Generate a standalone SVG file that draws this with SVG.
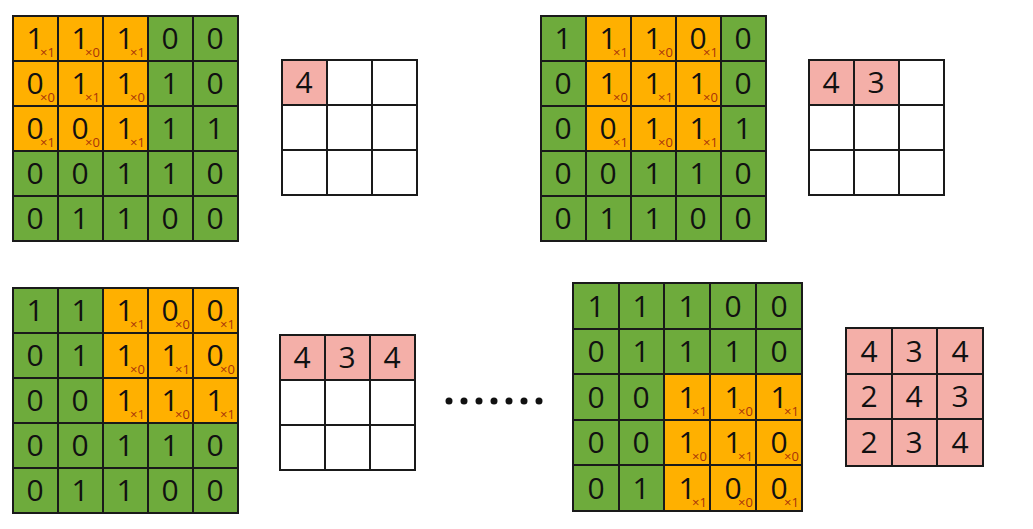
<svg xmlns="http://www.w3.org/2000/svg" width="1033" height="529" viewBox="0 0 1033 529">
<style>
.g{fill:#6EAB3C;stroke:#1a1a1a;stroke-width:2}
.o{fill:#FFB000;stroke:#1a1a1a;stroke-width:2}
.w{fill:#fff;stroke:#1a1a1a;stroke-width:2}
.p{fill:#F4AFA8;stroke:#1a1a1a;stroke-width:2}
text{font-family:"Open Sans","Liberation Sans",sans-serif;fill:#111}
.n{font-size:30px;text-anchor:middle}
.s{font-size:13px;fill:#A8320A}
</style>
<rect width="1033" height="529" fill="#fff"/>
<!-- Panel 1 -->
<g id="panel1">
<rect class="o" x="13" y="16" width="45" height="45"/><rect class="o" x="58" y="16" width="45" height="45"/><rect class="o" x="103" y="16" width="45" height="45"/><rect class="g" x="148" y="16" width="45" height="45"/><rect class="g" x="193" y="16" width="45" height="45"/>
<rect class="o" x="13" y="61" width="45" height="45"/><rect class="o" x="58" y="61" width="45" height="45"/><rect class="o" x="103" y="61" width="45" height="45"/><rect class="g" x="148" y="61" width="45" height="45"/><rect class="g" x="193" y="61" width="45" height="45"/>
<rect class="o" x="13" y="106" width="45" height="45"/><rect class="o" x="58" y="106" width="45" height="45"/><rect class="o" x="103" y="106" width="45" height="45"/><rect class="g" x="148" y="106" width="45" height="45"/><rect class="g" x="193" y="106" width="45" height="45"/>
<rect class="g" x="13" y="151" width="45" height="45"/><rect class="g" x="58" y="151" width="45" height="45"/><rect class="g" x="103" y="151" width="45" height="45"/><rect class="g" x="148" y="151" width="45" height="45"/><rect class="g" x="193" y="151" width="45" height="45"/>
<rect class="g" x="13" y="196" width="45" height="45"/><rect class="g" x="58" y="196" width="45" height="45"/><rect class="g" x="103" y="196" width="45" height="45"/><rect class="g" x="148" y="196" width="45" height="45"/><rect class="g" x="193" y="196" width="45" height="45"/>
<text class="n" x="35" y="49">1</text><text class="n" x="80" y="49">1</text><text class="n" x="125" y="49">1</text><text class="n" x="170" y="49">0</text><text class="n" x="215" y="49">0</text>
<text class="n" x="35" y="94">0</text><text class="n" x="80" y="94">1</text><text class="n" x="125" y="94">1</text><text class="n" x="170" y="94">1</text><text class="n" x="215" y="94">0</text>
<text class="n" x="35" y="139">0</text><text class="n" x="80" y="139">0</text><text class="n" x="125" y="139">1</text><text class="n" x="170" y="139">1</text><text class="n" x="215" y="139">1</text>
<text class="n" x="35" y="184">0</text><text class="n" x="80" y="184">0</text><text class="n" x="125" y="184">1</text><text class="n" x="170" y="184">1</text><text class="n" x="215" y="184">0</text>
<text class="n" x="35" y="229">0</text><text class="n" x="80" y="229">1</text><text class="n" x="125" y="229">1</text><text class="n" x="170" y="229">0</text><text class="n" x="215" y="229">0</text>
<text class="s" x="40" y="57">×1</text><text class="s" x="85" y="57">×0</text><text class="s" x="130" y="57">×1</text>
<text class="s" x="40" y="102">×0</text><text class="s" x="85" y="102">×1</text><text class="s" x="130" y="102">×0</text>
<text class="s" x="40" y="147">×1</text><text class="s" x="85" y="147">×0</text><text class="s" x="130" y="147">×1</text>
<rect class="p" x="282" y="60" width="45" height="45"/><rect class="w" x="327" y="60" width="45" height="45"/><rect class="w" x="372" y="60" width="45" height="45"/>
<rect class="w" x="282" y="105" width="45" height="45"/><rect class="w" x="327" y="105" width="45" height="45"/><rect class="w" x="372" y="105" width="45" height="45"/>
<rect class="w" x="282" y="150" width="45" height="45"/><rect class="w" x="327" y="150" width="45" height="45"/><rect class="w" x="372" y="150" width="45" height="45"/>
<text class="n" x="304" y="93">4</text>
</g>
<!-- Panel 2 -->
<g id="panel2">
<rect class="g" x="541" y="16" width="45" height="45"/><rect class="o" x="586" y="16" width="45" height="45"/><rect class="o" x="631" y="16" width="45" height="45"/><rect class="o" x="676" y="16" width="45" height="45"/><rect class="g" x="721" y="16" width="45" height="45"/>
<rect class="g" x="541" y="61" width="45" height="45"/><rect class="o" x="586" y="61" width="45" height="45"/><rect class="o" x="631" y="61" width="45" height="45"/><rect class="o" x="676" y="61" width="45" height="45"/><rect class="g" x="721" y="61" width="45" height="45"/>
<rect class="g" x="541" y="106" width="45" height="45"/><rect class="o" x="586" y="106" width="45" height="45"/><rect class="o" x="631" y="106" width="45" height="45"/><rect class="o" x="676" y="106" width="45" height="45"/><rect class="g" x="721" y="106" width="45" height="45"/>
<rect class="g" x="541" y="151" width="45" height="45"/><rect class="g" x="586" y="151" width="45" height="45"/><rect class="g" x="631" y="151" width="45" height="45"/><rect class="g" x="676" y="151" width="45" height="45"/><rect class="g" x="721" y="151" width="45" height="45"/>
<rect class="g" x="541" y="196" width="45" height="45"/><rect class="g" x="586" y="196" width="45" height="45"/><rect class="g" x="631" y="196" width="45" height="45"/><rect class="g" x="676" y="196" width="45" height="45"/><rect class="g" x="721" y="196" width="45" height="45"/>
<text class="n" x="563" y="49">1</text><text class="n" x="608" y="49">1</text><text class="n" x="653" y="49">1</text><text class="n" x="698" y="49">0</text><text class="n" x="743" y="49">0</text>
<text class="n" x="563" y="94">0</text><text class="n" x="608" y="94">1</text><text class="n" x="653" y="94">1</text><text class="n" x="698" y="94">1</text><text class="n" x="743" y="94">0</text>
<text class="n" x="563" y="139">0</text><text class="n" x="608" y="139">0</text><text class="n" x="653" y="139">1</text><text class="n" x="698" y="139">1</text><text class="n" x="743" y="139">1</text>
<text class="n" x="563" y="184">0</text><text class="n" x="608" y="184">0</text><text class="n" x="653" y="184">1</text><text class="n" x="698" y="184">1</text><text class="n" x="743" y="184">0</text>
<text class="n" x="563" y="229">0</text><text class="n" x="608" y="229">1</text><text class="n" x="653" y="229">1</text><text class="n" x="698" y="229">0</text><text class="n" x="743" y="229">0</text>
<text class="s" x="613" y="57">×1</text><text class="s" x="658" y="57">×0</text><text class="s" x="703" y="57">×1</text>
<text class="s" x="613" y="102">×0</text><text class="s" x="658" y="102">×1</text><text class="s" x="703" y="102">×0</text>
<text class="s" x="613" y="147">×1</text><text class="s" x="658" y="147">×0</text><text class="s" x="703" y="147">×1</text>
<rect class="p" x="809" y="60" width="45" height="45"/><rect class="p" x="854" y="60" width="45" height="45"/><rect class="w" x="899" y="60" width="45" height="45"/>
<rect class="w" x="809" y="105" width="45" height="45"/><rect class="w" x="854" y="105" width="45" height="45"/><rect class="w" x="899" y="105" width="45" height="45"/>
<rect class="w" x="809" y="150" width="45" height="45"/><rect class="w" x="854" y="150" width="45" height="45"/><rect class="w" x="899" y="150" width="45" height="45"/>
<text class="n" x="831" y="93">4</text><text class="n" x="876" y="93">3</text>
</g>
<!-- Panel 3 -->
<g id="panel3">
<rect class="g" x="13" y="288" width="45" height="45"/><rect class="g" x="58" y="288" width="45" height="45"/><rect class="o" x="103" y="288" width="45" height="45"/><rect class="o" x="148" y="288" width="45" height="45"/><rect class="o" x="193" y="288" width="45" height="45"/>
<rect class="g" x="13" y="333" width="45" height="45"/><rect class="g" x="58" y="333" width="45" height="45"/><rect class="o" x="103" y="333" width="45" height="45"/><rect class="o" x="148" y="333" width="45" height="45"/><rect class="o" x="193" y="333" width="45" height="45"/>
<rect class="g" x="13" y="378" width="45" height="45"/><rect class="g" x="58" y="378" width="45" height="45"/><rect class="o" x="103" y="378" width="45" height="45"/><rect class="o" x="148" y="378" width="45" height="45"/><rect class="o" x="193" y="378" width="45" height="45"/>
<rect class="g" x="13" y="423" width="45" height="45"/><rect class="g" x="58" y="423" width="45" height="45"/><rect class="g" x="103" y="423" width="45" height="45"/><rect class="g" x="148" y="423" width="45" height="45"/><rect class="g" x="193" y="423" width="45" height="45"/>
<rect class="g" x="13" y="468" width="45" height="45"/><rect class="g" x="58" y="468" width="45" height="45"/><rect class="g" x="103" y="468" width="45" height="45"/><rect class="g" x="148" y="468" width="45" height="45"/><rect class="g" x="193" y="468" width="45" height="45"/>
<text class="n" x="35" y="321">1</text><text class="n" x="80" y="321">1</text><text class="n" x="125" y="321">1</text><text class="n" x="170" y="321">0</text><text class="n" x="215" y="321">0</text>
<text class="n" x="35" y="366">0</text><text class="n" x="80" y="366">1</text><text class="n" x="125" y="366">1</text><text class="n" x="170" y="366">1</text><text class="n" x="215" y="366">0</text>
<text class="n" x="35" y="411">0</text><text class="n" x="80" y="411">0</text><text class="n" x="125" y="411">1</text><text class="n" x="170" y="411">1</text><text class="n" x="215" y="411">1</text>
<text class="n" x="35" y="456">0</text><text class="n" x="80" y="456">0</text><text class="n" x="125" y="456">1</text><text class="n" x="170" y="456">1</text><text class="n" x="215" y="456">0</text>
<text class="n" x="35" y="501">0</text><text class="n" x="80" y="501">1</text><text class="n" x="125" y="501">1</text><text class="n" x="170" y="501">0</text><text class="n" x="215" y="501">0</text>
<text class="s" x="130" y="329">×1</text><text class="s" x="175" y="329">×0</text><text class="s" x="220" y="329">×1</text>
<text class="s" x="130" y="374">×0</text><text class="s" x="175" y="374">×1</text><text class="s" x="220" y="374">×0</text>
<text class="s" x="130" y="419">×1</text><text class="s" x="175" y="419">×0</text><text class="s" x="220" y="419">×1</text>
<rect class="p" x="280" y="335" width="45" height="45"/><rect class="p" x="325" y="335" width="45" height="45"/><rect class="p" x="370" y="335" width="45" height="45"/>
<rect class="w" x="280" y="380" width="45" height="45"/><rect class="w" x="325" y="380" width="45" height="45"/><rect class="w" x="370" y="380" width="45" height="45"/>
<rect class="w" x="280" y="425" width="45" height="45"/><rect class="w" x="325" y="425" width="45" height="45"/><rect class="w" x="370" y="425" width="45" height="45"/>
<text class="n" x="302" y="368">4</text><text class="n" x="347" y="368">3</text><text class="n" x="392" y="368">4</text>
</g>
<g id="dots" fill="#111">
<circle cx="449" cy="401" r="3.5"/><circle cx="464" cy="401" r="3.5"/><circle cx="479" cy="401" r="3.5"/><circle cx="494" cy="401" r="3.5"/><circle cx="509" cy="401" r="3.5"/><circle cx="524" cy="401" r="3.5"/><circle cx="539" cy="401" r="3.5"/>
</g>
<!-- Panel 4 -->
<g id="panel4">
<rect class="g" x="573" y="283" width="46" height="46"/><rect class="g" x="619" y="283" width="45" height="46"/><rect class="g" x="664" y="283" width="46" height="46"/><rect class="g" x="710" y="283" width="46" height="46"/><rect class="g" x="756" y="283" width="46" height="46"/>
<rect class="g" x="573" y="329" width="46" height="45"/><rect class="g" x="619" y="329" width="45" height="45"/><rect class="g" x="664" y="329" width="46" height="45"/><rect class="g" x="710" y="329" width="46" height="45"/><rect class="g" x="756" y="329" width="46" height="45"/>
<rect class="g" x="573" y="374" width="46" height="46"/><rect class="g" x="619" y="374" width="45" height="46"/><rect class="o" x="664" y="374" width="46" height="46"/><rect class="o" x="710" y="374" width="46" height="46"/><rect class="o" x="756" y="374" width="46" height="46"/>
<rect class="g" x="573" y="420" width="46" height="45"/><rect class="g" x="619" y="420" width="45" height="45"/><rect class="o" x="664" y="420" width="46" height="45"/><rect class="o" x="710" y="420" width="46" height="45"/><rect class="o" x="756" y="420" width="46" height="45"/>
<rect class="g" x="573" y="465" width="46" height="46"/><rect class="g" x="619" y="465" width="45" height="46"/><rect class="o" x="664" y="465" width="46" height="46"/><rect class="o" x="710" y="465" width="46" height="46"/><rect class="o" x="756" y="465" width="46" height="46"/>
<text class="n" x="596" y="317">1</text><text class="n" x="641" y="317">1</text><text class="n" x="687" y="317">1</text><text class="n" x="733" y="317">0</text><text class="n" x="779" y="317">0</text>
<text class="n" x="596" y="362">0</text><text class="n" x="641" y="362">1</text><text class="n" x="687" y="362">1</text><text class="n" x="733" y="362">1</text><text class="n" x="779" y="362">0</text>
<text class="n" x="596" y="408">0</text><text class="n" x="641" y="408">0</text><text class="n" x="687" y="408">1</text><text class="n" x="733" y="408">1</text><text class="n" x="779" y="408">1</text>
<text class="n" x="596" y="453">0</text><text class="n" x="641" y="453">0</text><text class="n" x="687" y="453">1</text><text class="n" x="733" y="453">1</text><text class="n" x="779" y="453">0</text>
<text class="n" x="596" y="499">0</text><text class="n" x="641" y="499">1</text><text class="n" x="687" y="499">1</text><text class="n" x="733" y="499">0</text><text class="n" x="779" y="499">0</text>
<text class="s" x="692" y="416">×1</text><text class="s" x="738" y="416">×0</text><text class="s" x="784" y="416">×1</text>
<text class="s" x="692" y="461">×0</text><text class="s" x="738" y="461">×1</text><text class="s" x="784" y="461">×0</text>
<text class="s" x="692" y="507">×1</text><text class="s" x="738" y="507">×0</text><text class="s" x="784" y="507">×1</text>
<rect class="p" x="846" y="328" width="46" height="46"/><rect class="p" x="892" y="328" width="45" height="46"/><rect class="p" x="937" y="328" width="46" height="46"/>
<rect class="p" x="846" y="374" width="46" height="45"/><rect class="p" x="892" y="374" width="45" height="45"/><rect class="p" x="937" y="374" width="46" height="45"/>
<rect class="p" x="846" y="419" width="46" height="47"/><rect class="p" x="892" y="419" width="45" height="47"/><rect class="p" x="937" y="419" width="46" height="47"/>
<text class="n" x="869" y="362">4</text><text class="n" x="914" y="362">3</text><text class="n" x="960" y="362">4</text>
<text class="n" x="869" y="407">2</text><text class="n" x="914" y="407">4</text><text class="n" x="960" y="407">3</text>
<text class="n" x="869" y="453">2</text><text class="n" x="914" y="453">3</text><text class="n" x="960" y="453">4</text>
</g>
</svg>
